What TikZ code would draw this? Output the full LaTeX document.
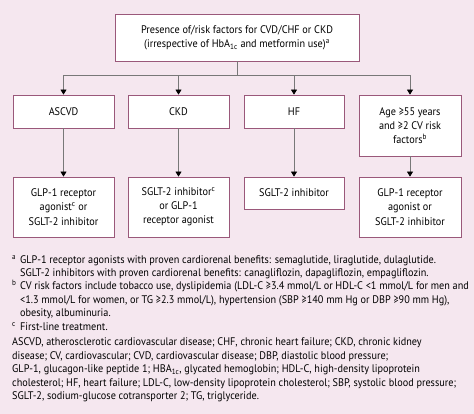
\documentclass[tikz,border=0pt]{standalone}
\usepackage{fontspec}
\setmainfont{PT Sans}[FakeStretch=0.93]
\usetikzlibrary{arrows.meta}
\definecolor{bg}{HTML}{F5E7EF}
\definecolor{frame}{HTML}{9A587A}
\definecolor{conn}{HTML}{787878}
\newcommand{\sups}[1]{\textsuperscript{#1}}
\newcommand{\fnblock}[1]{\parbox[t]{460pt}{\raggedright\fontsize{11}{13.4}\selectfont #1}}
\begin{document}
\begin{tikzpicture}[x=1pt,y=-1pt,
  font=\fontsize{11}{14.2}\selectfont,
  box/.style={draw=frame, line width=0.8pt, fill=white, align=center, inner sep=0pt, minimum width=101pt},
  line/.style={draw=conn, line width=0.7pt},
  arr/.style={line, -{Triangle[length=5pt,width=6pt,color=black]}},
  fn/.style={anchor=base west, inner sep=0pt}]
\fill[bg] (0,0) rectangle (474,414);
\useasboundingbox (0,0) rectangle (474,414);
% top
\node[box, minimum width=244pt, minimum height=47pt] (top) at (237,37.5)
  {Presence of/risk factors for CVD/CHF or CKD\\(irrespective of HbA\textsubscript{1c} and metformin use)\sups{a}};
% row 2
\node[box, minimum height=33pt] (ascvd) at (63.5,111.5) {ASCVD};
\node[box, minimum height=33pt] (ckd) at (178.5,111.5) {CKD};
\node[box, minimum width=100pt, minimum height=33pt] (hf) at (294,111.5) {HF};
\node[box, minimum width=102pt, minimum height=61pt] (age) at (410,125.5) {Age ≥55 years\\and ≥2 CV risk\\factors\sups{b}};
% row 3
\node[box, minimum height=60pt] (r1) at (63.5,207) {GLP-1 receptor\\agonist\sups{c} or\\SGLT-2 inhibitor};
\node[box, minimum height=60pt] (r2) at (178.5,207) {SGLT-2 inhibitor\sups{c}\\or GLP-1\\receptor agonist};
\node[box, minimum width=100pt, minimum height=32pt] (r3) at (294,193) {SGLT-2 inhibitor};
\node[box, minimum width=102pt, minimum height=60pt] (r4) at (410,207) {GLP-1 receptor\\agonist or\\SGLT-2 inhibitor};
% connectors
\coordinate (j) at (237,75);
\draw[line] (top.south) -- (j);
\draw[arr] (j) -| (ascvd.north);
\draw[arr] (j) -| (ckd.north);
\draw[arr] (j) -| (hf.north);
\draw[arr] (j) -| (age.north);
\draw[arr] (ascvd.south) -- (r1.north);
\draw[arr] (ckd.south) -- (r2.north);
\draw[arr] (hf.south) -- (r3.north);
\draw[arr] (age.south) -- (r4.north);
% footnotes
\node[fn] (ma) at (12,263) {\fontsize{11}{13.4}\selectfont\sups{a}};
\node[fn] (fa) at (20,263) {\fnblock{GLP-1 receptor agonists with proven cardiorenal benefits: semaglutide, liraglutide, dulaglutide.\\SGLT-2 inhibitors with proven cardiorenal benefits: canagliflozin, dapagliflozin, empagliflozin.}};
\node[fn] (mb) at (12,289.8) {\fontsize{11}{13.4}\selectfont\sups{b}};
\node[fn] (fb) at (20,289.8) {\fnblock{CV risk factors include tobacco use, dyslipidemia (LDL-C ≥3.4 mmol/L or HDL-C <1 mmol/L for men and\\<1.3 mmol/L for women, or TG ≥2.3 mmol/L), hypertension (SBP ≥140 mm Hg or DBP ≥90 mm Hg),\\obesity, albuminuria.}};
\node[fn] (mc) at (12,330) {\fontsize{11}{13.4}\selectfont\sups{c}};
\node[fn] (fc) at (20,330) {\fnblock{First-line treatment.}};
\node[fn] (abbr) at (12,345.5) {\parbox[t]{462pt}{\raggedright\fontsize{11}{13.5}\selectfont ASCVD, atherosclerotic cardiovascular disease; CHF, chronic heart failure; CKD, chronic kidney\\disease; CV, cardiovascular; CVD, cardiovascular disease; DBP, diastolic blood pressure;\\GLP-1, glucagon-like peptide 1; HBA\textsubscript{1c}, glycated hemoglobin; HDL-C, high-density lipoprotein\\cholesterol; HF, heart failure; LDL-C, low-density lipoprotein cholesterol; SBP, systolic blood pressure;\\SGLT-2, sodium-glucose cotransporter 2; TG, triglyceride.}};
\end{tikzpicture}
\end{document}
